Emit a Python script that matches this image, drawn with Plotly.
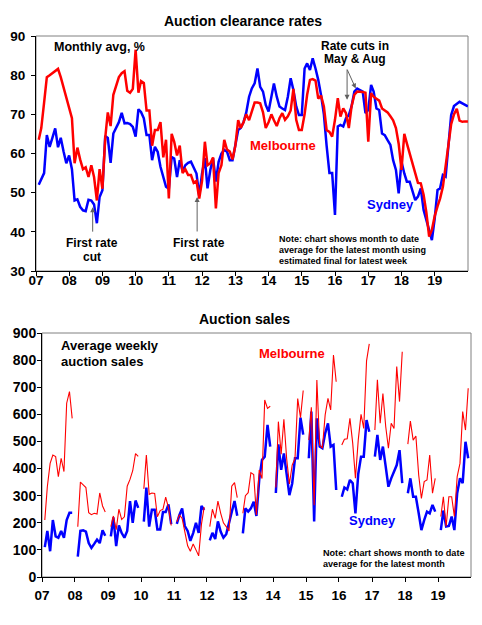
import pandas as pd
import plotly.graph_objects as go

W, H = 482, 625
PAD = 8  # browser body margin around the plot div
FIG_W, FIG_H = W - 2 * PAD, H - 2 * PAD
FONT = "Liberation Sans"
RED = "#ff0000"
BLUE = "#0000ff"

# Monthly auction clearance rates (%), Jan 2007 - Dec 2019
melb_clearance = [
    63.5, 66.5, 73, 79.5, 80, 80.5, 81, 81.6, 79.5, 77, 74.5, 72,
    69, 57.5, 61.5, 58.5, 56, 56.5, 54, 57, 54, 48, 56, 51,
    64, 70.5, 67, 75, 77.5, 79.5, 80.5, 81, 76, 75.5, 76.5, 86.5,
    75.5, 78.5, 78, 71, 71, 62, 66, 66, 68, 59, 63.5, 48.5,
    65, 63, 59.5, 62, 55, 56, 54.5, 54.5, 52.5, 53, 48.5, 53,
    63, 57, 57.5, 59, 46, 55, 57, 63.5, 61, 60.5, 58.5, 62,
    68.5, 66.5, 68, 70, 68.5, 70.5, 73, 73, 72.8, 70.5, 66.5, 68,
    70, 68.5, 67, 69, 70.3, 68.6, 69.5, 71, 76.5, 68.6, 66, 66,
    70, 75, 78.8, 79, 78.6, 74, 74.8, 72, 66, 65.5, 64.3, 68.6,
    74.1, 69.4, 71.5, 70.3, 66.5, 72, 75, 75.8, 75.8, 75.7, 75.5, 63,
    75.4, 74.5, 74, 73.5, 71.5, 71.1, 70.5, 69.5, 68.5, 66.5, 62.5, 55.8,
    65, 62.6, 60, 57, 54.5, 52.5, 52.4, 49.5, 45, 38.8, 40.5, 44,
    46.5, 48.5, 51.5, 57, 63, 67.5, 70, 71.4, 68.4, 68.1, 68.2, 68.2,
]
syd_clearance = [
    52, 53.5, 55, 64.7, 61.7, 64, 66.4, 61.6, 64, 60.5, 57.5, 59.5,
    56, 48, 48.3, 46.4, 45.5, 45.3, 48.2, 48, 47, 42.2, 48.9, 50.6,
    64.5, 64, 57.6, 65.1, 66.5, 68, 70.4, 67.7, 67.8, 67.5, 66.8, 64.3,
    71.3, 70.6, 69, 64.7, 64.7, 58.3, 61.7, 60.4, 56.6, 54, 51.5, 51,
    59.1, 58.7, 54, 58.3, 55.5, 57, 57.6, 57.9, 56.6, 54.9, 49.2, 54.9,
    58.8, 51.1, 55.8, 58.8, 52.8, 57.9, 60, 60.9, 60.5, 58.3, 58.3, 62,
    66, 66.5, 68, 70.5, 74.5, 76.6, 77.9, 81.7, 77, 75.8, 72.4, 70.7,
    74.9, 77.9, 74.5, 72, 71.5, 71.1, 74.5, 79.2, 76.2, 72, 69.8, 69.8,
    81.7, 83, 81.3, 84.3, 81.7, 78.8, 74.9, 70, 62, 55, 55, 44.3,
    66.9, 67.3, 66.9, 69, 69.8, 72, 75.8, 76.6, 76.2, 75.8, 70.3, 71.1,
    77.5, 75.8, 71.5, 71.1, 65.1, 64.7, 63.4, 62.2, 58.3, 55.8, 49.8, 57.9,
    54.9, 52.8, 52.8, 50.5, 48.1, 49, 51.1, 45.6, 43, 40, 37.9, 43.4,
    50.7, 51.1, 54.5, 54.1, 62.6, 69.8, 72.1, 72.6, 73.2, 72.8, 72.4, 72,
]

# Average weekly auction sales, Feb - Dec of each year (no January figure)
melb_sales = [
    210, 333, 419, 450, 444, 370, 438, 389, 641, 684, 585,
    185, 350, 340, 330, 237, 230, 235, 232, 310, 262, 240,
    186, 225, 175, 250, 212, 222, 335, 360, 392, 455, 445,
    325, 450, 305, 310, 308, 222, 245, 250, 295, 255, 190,
    204, 229, 216, 160, 115, 95, 122, 100, 78, 195, 258,
    186, 250, 216, 280, 235, 200, 186, 170, 335, 348, 293,
    235, 300, 311, 385, 378, 229, 395, 363, 653, 622, 630,
    330, 573, 453, 582, 435, 343, 413, 437, 658, 588, 688,
    505, 626, 265, 727, 487, 475, 598, 659, 616, 819, 720,
    487, 508, 510, 585, 493, 364, 505, 600, 548, 797, 860,
    542, 727, 567, 677, 555, 475, 567, 548, 776, 647, 831,
    490, 575, 505, 520, 376, 290, 352, 358, 450, 309, 364,
    223, 296, 186, 296, 296, 223, 370, 419, 610, 542, 696,
]
syd_sales = [
    110, 170, 95, 210, 150, 145, 170, 145, 210, 237, 237,
    75, 170, 172, 167, 125, 107, 122, 138, 125, 172, 152,
    150, 220, 114, 190, 162, 145, 170, 280, 200, 282, 255,
    204, 330, 186, 248, 248, 175, 175, 240, 240, 268, 195,
    196, 228, 253, 188, 170, 133, 162, 200, 163, 262, 247,
    135, 163, 140, 205, 167, 145, 158, 195, 240, 280, 226,
    161, 253, 241, 253, 278, 225, 358, 432, 444, 561, 481,
    310, 489, 395, 456, 379, 302, 345, 438, 438, 588, 525,
    438, 610, 205, 585, 481, 475, 530, 567, 481, 487, 321,
    296, 330, 323, 358, 346, 235, 380, 444, 444, 579, 536,
    444, 524, 432, 481, 407, 333, 364, 389, 413, 468, 346,
    309, 364, 296, 296, 235, 173, 210, 241, 235, 266, 241,
    173, 245, 186, 188, 223, 173, 309, 364, 346, 499, 438,
]

years = list(range(2007, 2020))
year_labels = [str(y)[2:] for y in years]

clear_dates = pd.date_range("2007-01-31", periods=len(melb_clearance), freq="ME")
sales_dates = pd.date_range("2007-01-01", "2019-12-01", freq="MS")


def with_gaps(vals):
    # January has no figure, so the line breaks there
    out, i = [], 0
    for d in sales_dates:
        if d.month == 1:
            out.append(None)
        else:
            out.append(vals[i])
            i += 1
    return out


fig = go.Figure()
fig.add_trace(go.Scatter(x=clear_dates, y=syd_clearance, mode="lines",
                         line=dict(color=BLUE, width=2.5), xaxis="x", yaxis="y"))
fig.add_trace(go.Scatter(x=clear_dates, y=melb_clearance, mode="lines",
                         line=dict(color=RED, width=2.5), xaxis="x", yaxis="y"))
fig.add_trace(go.Scatter(x=sales_dates, y=with_gaps(syd_sales), mode="lines",
                         line=dict(color=BLUE, width=2.5), xaxis="x2", yaxis="y2"))
fig.add_trace(go.Scatter(x=sales_dates, y=with_gaps(melb_sales), mode="lines",
                         line=dict(color=RED, width=1.1), xaxis="x2", yaxis="y2"))


def tick_font(size):
    return dict(family=FONT, size=size, color="black", weight="bold")


xcommon = dict(range=["2007-01-01", "2020-01-01"],
               tickvals=[f"{y}-01-01" for y in years], ticktext=year_labels,
               ticks="outside", ticklen=4, tickcolor="black", showgrid=False,
               showline=True, linecolor="black", linewidth=1, zeroline=False,
               automargin=False)
ycommon = dict(ticks="outside", ticklen=4, tickcolor="black", showgrid=False,
               showline=True, linecolor="black", linewidth=1, zeroline=False,
               automargin=False)


# positions below are read in page pixels; convert to paper fractions
def px2paper_x(x):
    return (x - PAD) / FIG_W


def px2paper_y(y):
    return 1 - (y - PAD) / FIG_H


fig.update_layout(
    width=FIG_W, height=FIG_H, margin=dict(l=0, r=0, t=0, b=0), autosize=False,
    paper_bgcolor="white", plot_bgcolor="white", showlegend=False,
    xaxis=dict(xcommon, domain=[px2paper_x(36), px2paper_x(468)], anchor="y",
               tickfont=tick_font(13.5), ticklabelstandoff=-7),
    yaxis=dict(ycommon, domain=[px2paper_y(271), px2paper_y(36)], range=[30, 90],
               dtick=10, anchor="x", tickfont=tick_font(13.5), ticklabelstandoff=3),
    xaxis2=dict(xcommon, domain=[px2paper_x(42), px2paper_x(471)], anchor="y2",
                tickfont=tick_font(13.5), ticklabelstandoff=2),
    yaxis2=dict(ycommon, domain=[px2paper_y(577), px2paper_y(333)], range=[0, 900],
                dtick=100, anchor="x2", tickfont=tick_font(14), ticklabelstandoff=-2),
)

# grey frame on the top/right sides of each panel
for x0, y0, x1, y1 in [(36, 36, 468, 271), (42, 333, 471, 577)]:
    fig.add_shape(type="rect", xref="paper", yref="paper",
                  x0=px2paper_x(x0), x1=px2paper_x(x1),
                  y0=px2paper_y(y1), y1=px2paper_y(y0),
                  line=dict(color="#808080", width=1), layer="below")


def label(text, x, y, size, color="black", xanchor="center", bold=True):
    fig.add_annotation(text=text, x=px2paper_x(x), y=px2paper_y(y),
                       xref="paper", yref="paper", showarrow=False,
                       xanchor=xanchor, yanchor="middle",
                       font=dict(family=FONT, size=size, color=color,
                                 weight="bold" if bold else "normal"))


# titles
label("Auction clearance rates", 243, 21, 14)
label("Auction sales", 244, 319, 14)

# top panel text
label("Monthly avg, %", 52, 47, 12.5, xanchor="left")
label("First rate", 92, 243, 12)
label("cut", 92, 257, 12)
label("First rate", 199, 243, 12)
label("cut", 199, 257, 12)
label("Rate cuts in", 355, 46, 12)
label("May & Aug", 355, 59, 12)
label("Melbourne", 283, 146, 13, color=RED)
label("Sydney", 390, 204, 13, color=BLUE)
label("Note: chart shows month to date", 277, 239, 9, xanchor="left")
label("average for the latest month using", 277, 250, 9, xanchor="left")
label("estimated final for latest week", 277, 260.5, 9, xanchor="left")

# bottom panel text
label("Average weekly", 59, 345, 13, xanchor="left")
label("auction sales", 59, 361, 13, xanchor="left")
label("Melbourne", 292, 353, 13, color=RED)
label("Sydney", 372, 520, 13, color=BLUE)
label("Note: chart shows month to date", 321, 553, 9.1, xanchor="left")
label("average for the latest month", 321, 564, 9.1, xanchor="left")

# arrows pointing at the rate cut months
arrow = dict(xref="x", yref="y", text="", showarrow=True, arrowhead=2,
             arrowsize=1, arrowwidth=1, arrowcolor="#606060")
fig.add_annotation(arrow, x="2008-09-15", y=46.3, ax=0, ay=26)
fig.add_annotation(arrow, x="2011-11-07", y=48.9, ax=0, ay=36)
fig.add_annotation(arrow, x="2016-05-12", y=73.7, ax=0, ay=-32)
fig.add_annotation(arrow, x="2016-08-15", y=76.6, ax=-9, ay=-20)

fig.write_html("out.html")
